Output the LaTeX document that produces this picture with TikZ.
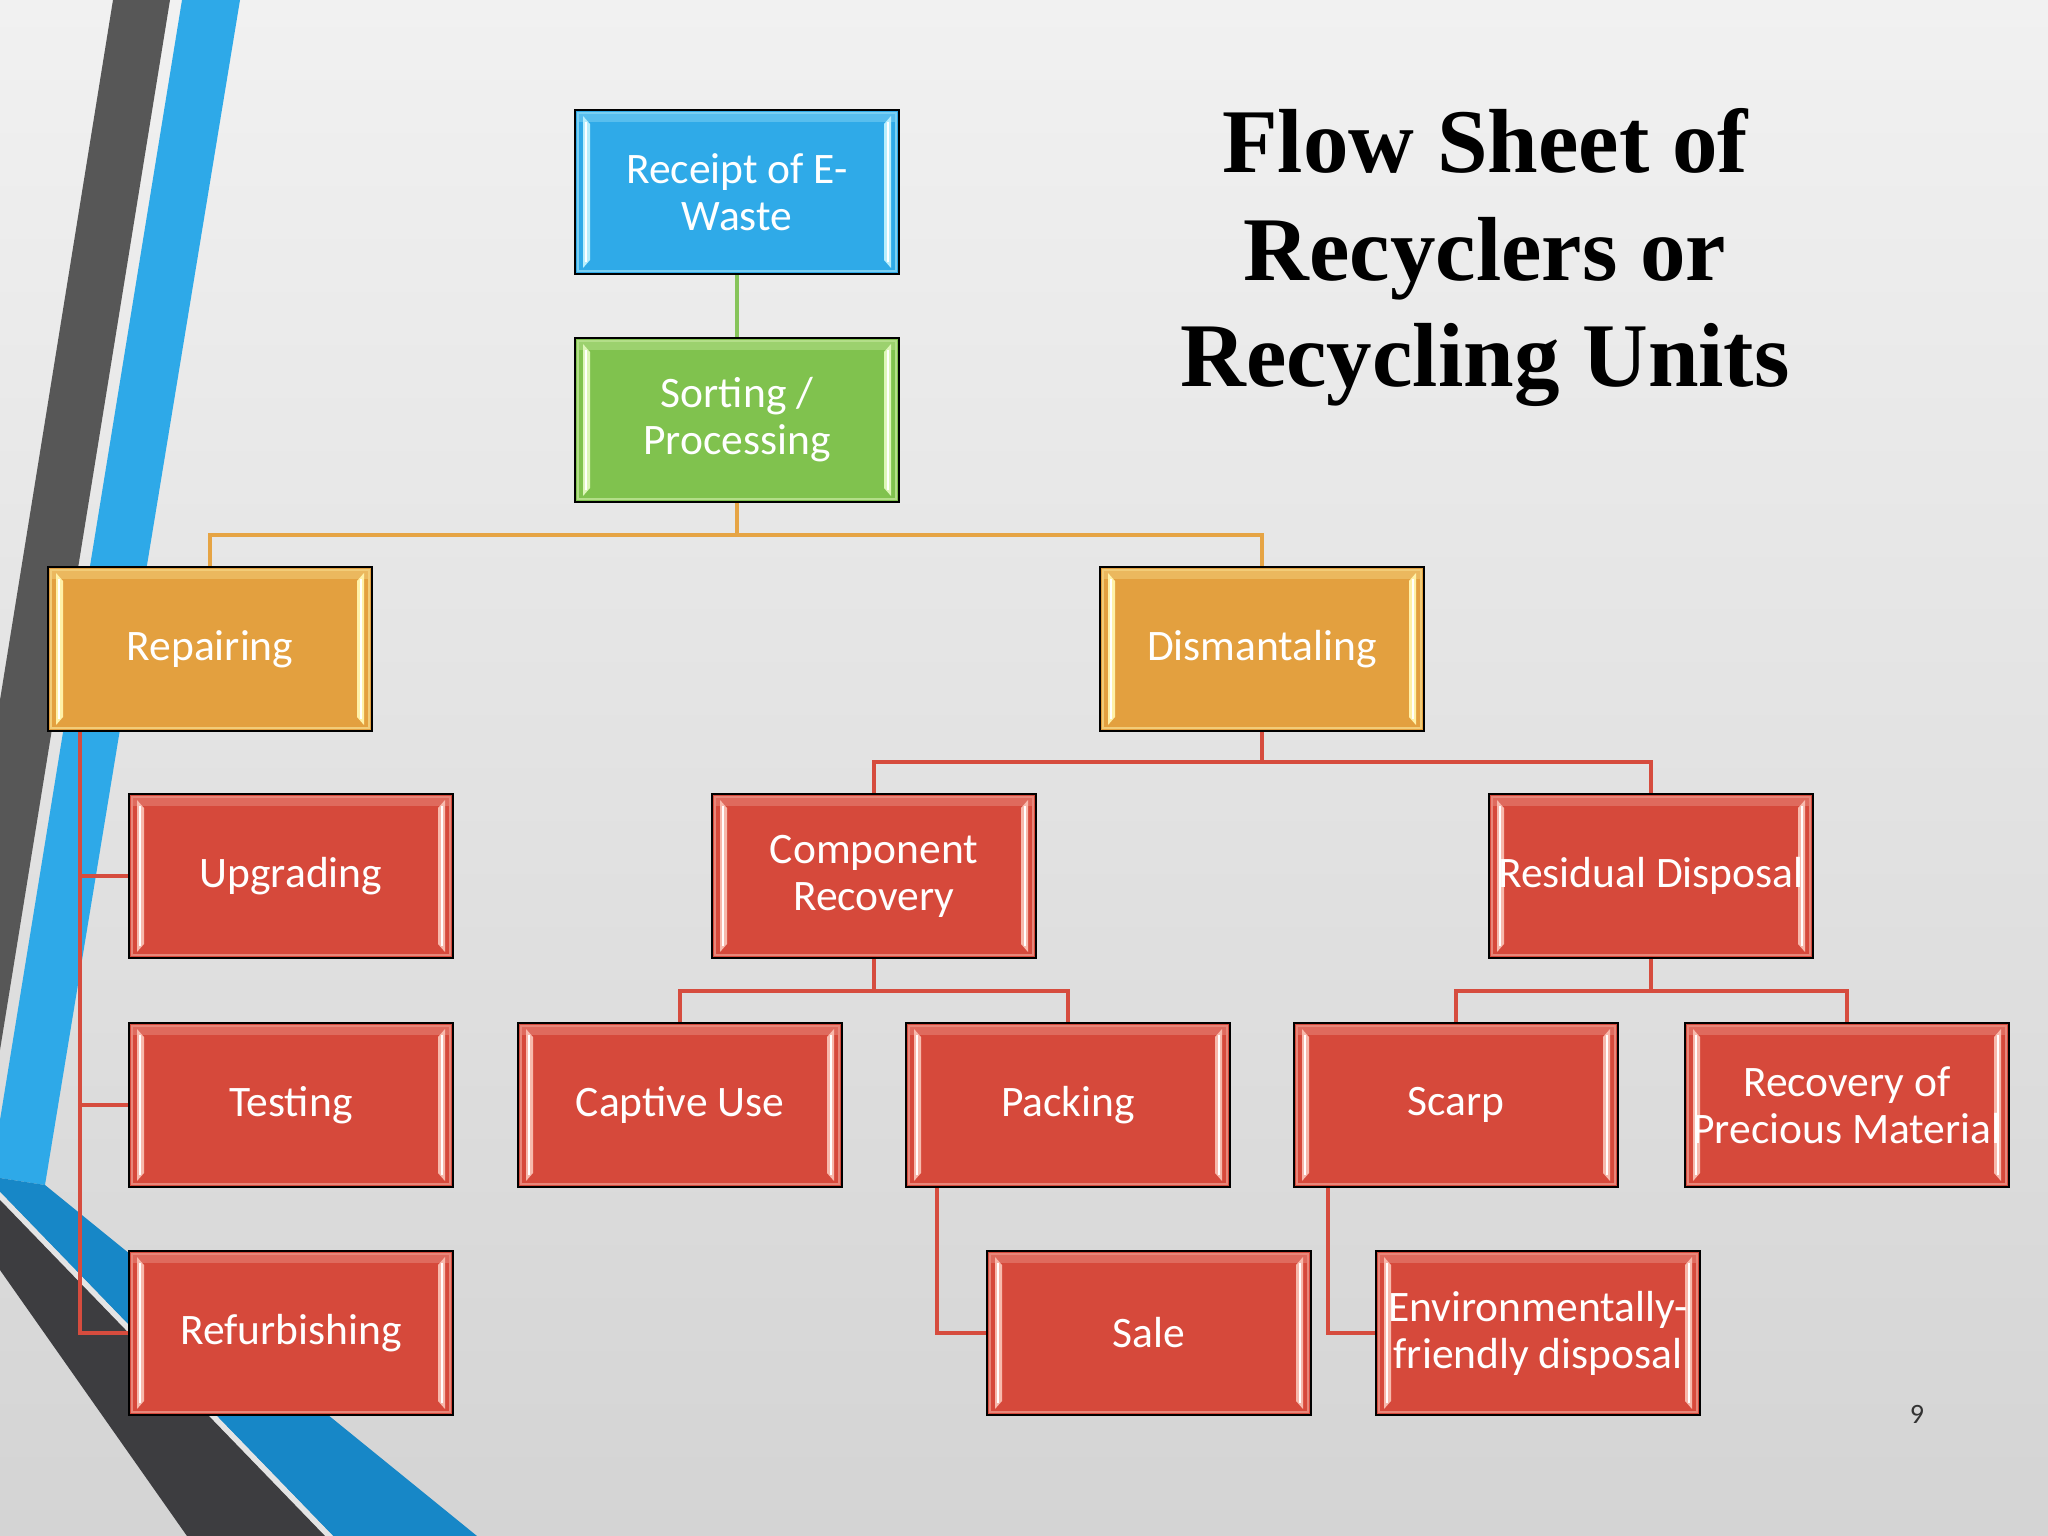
\documentclass[tikz,border=0pt]{standalone}
\usepackage{fontspec}
\setmainfont{Carlito}
\newfontfamily\titlefont{Liberation Serif}
\usetikzlibrary{calc}
\pgfdeclarelayer{back}
\pgfdeclarelayer{lines}
\pgfsetlayers{back,lines,main}
\definecolor{BgTop}{HTML}{F1F1F1}
\definecolor{BgBot}{HTML}{D4D4D4}
\definecolor{StripeDark}{HTML}{575757}
\definecolor{StripeBlue}{HTML}{2EA9E8}
\definecolor{BandBlue}{HTML}{1787C7}
\definecolor{BandDark}{HTML}{3D3D40}
\definecolor{BandLine}{HTML}{E4E4E4}
\definecolor{BlueF}{HTML}{2FAAE8}
\definecolor{BlueL}{HTML}{B8EEFC}
\definecolor{GreenF}{HTML}{80C24E}
\definecolor{GreenL}{HTML}{DDF6B8}
\definecolor{OrgF}{HTML}{E3A03F}
\definecolor{OrgL}{HTML}{FFF1A8}
\definecolor{RedF}{HTML}{D6493B}
\definecolor{RedL}{HTML}{F7B9AC}
\definecolor{GLine}{HTML}{86C45A}
\definecolor{OLine}{HTML}{E6A444}
\definecolor{RLine}{HTML}{D64C3E}
\tikzset{
  box/.style 2 args={draw=black, line width=1.8pt, fill=#1,
    minimum width=324pt, minimum height=164pt, inner sep=0pt,
    text=white, align=center, font=\fontsize{43.5}{47}\selectfont,
    path picture={
      \coordinate (pnw) at (path picture bounding box.north west);
      \coordinate (pse) at (path picture bounding box.south east);
      \coordinate (pne) at (path picture bounding box.north east);
      \coordinate (psw) at (path picture bounding box.south west);
      \draw[#2, line width=2.5pt, opacity=0.55] ($(pnw)+(3pt,-3pt)$) rectangle ($(pse)+(-3pt,3pt)$);
      \fill[#2, opacity=0.3] ($(pnw)+(4pt,-4pt)$) rectangle ($(pne)+(-4pt,-12pt)$);
      \fill[#2] ($(pnw)+(8pt,-6pt)$) -- ($(pnw)+(15pt,-14pt)$) -- ($(psw)+(15pt,14pt)$) -- ($(psw)+(8pt,6pt)$) -- cycle;
      \fill[#2] ($(pne)+(-8pt,-6pt)$) -- ($(pne)+(-15pt,-14pt)$) -- ($(pse)+(-15pt,14pt)$) -- ($(pse)+(-8pt,6pt)$) -- cycle;
      \draw[white, line width=1.2pt] ($(pnw)+(11pt,-12pt)$) -- ($(psw)+(11pt,12pt)$);
      \draw[white, line width=1.2pt] ($(pne)+(-11pt,-12pt)$) -- ($(pse)+(-11pt,12pt)$);
    }},
  bluebox/.style={box={BlueF}{BlueL}},
  greenbox/.style={box={GreenF}{GreenL}},
  orgbox/.style={box={OrgF}{OrgL}},
  redbox/.style={box={RedF}{RedL}},
  conn/.style={line width=3.5pt},
  gconn/.style={conn, draw=GLine},
  oconn/.style={conn, draw=OLine},
  rconn/.style={conn, draw=RLine},
  titleline/.style={anchor=base, inner sep=0pt, font=\titlefont\bfseries\fontsize{91}{107}\selectfont}
}
\begin{document}
\begin{tikzpicture}[x=1pt,y=-1pt]
\useasboundingbox (0,0) rectangle (2048,1536);
\begin{pgfonlayer}{back}
  \shade[top color=BgTop, bottom color=BgBot] (0,0) rectangle (2048,1536);
  \fill[StripeDark] (113,0) -- (170,0) -- (0,1050) -- (0,700) -- cycle;
  \fill[StripeBlue] (182,0) -- (240,0) -- (45,1185) -- (0,1178) -- (0,1120) -- cycle;
  \fill[BandBlue] (0,1178) -- (45,1185) -- (477,1536) -- (333,1536) -- (0,1192) -- cycle;
  \fill[BandLine] (0,1192) -- (333,1536) -- (325,1536) -- (0,1200) -- cycle;
  \fill[BandDark] (0,1200) -- (325,1536) -- (187,1536) -- (0,1270) -- cycle;
\end{pgfonlayer}

% title
\node[titleline] (title1) at (1485,172) {Flow Sheet of};
\node[titleline] (title2) at (1485,280) {Recyclers or};
\node[titleline] (title3) at (1485,386) {Recycling Units};

% boxes
\node[bluebox]  (receipt) at (737,192)  {Receipt of E-\\Waste};
\node[greenbox] (sorting) at (737,420)  {Sorting /\\Processing};
\node[orgbox]   (repair)  at (210,649)  {Repairing};
\node[orgbox]   (dism)    at (1262,649) {Dismantaling};
\node[redbox]   (upgr)    at (291,876)  {Upgrading};
\node[redbox]   (comp)    at (874,876)  {Component\\Recovery};
\node[redbox]   (resid)   at (1651,876) {Residual Disposal};
\node[redbox]   (test)    at (291,1105) {Testing};
\node[redbox]   (capt)    at (680,1105) {Captive Use};
\node[redbox]   (pack)    at (1068,1105) {Packing};
\node[redbox]   (scarp)   at (1456,1105) {Scarp};
\node[redbox]   (recov)   at (1847,1105) {Recovery of\\Precious Material};
\node[redbox]   (refurb)  at (291,1333) {Refurbishing};
\node[redbox]   (sale)    at (1149,1333) {Sale};
\node[redbox]   (env)     at (1538,1333) {Environmentally-\\friendly disposal};

\node[font=\fontsize{28}{32}\selectfont, text=black!80] (pagenum) at (1917,1414) {9};

% connectors
\begin{pgfonlayer}{lines}
  \draw[gconn] (receipt.south) -- (sorting.north);
  \coordinate (obar) at ($(sorting.south)+(0,32)$);
  \draw[oconn] (sorting.south) -- (obar);
  \draw[oconn] (repair.north) |- (obar);
  \draw[oconn] (dism.north) |- (obar);
  \coordinate (dbar) at ($(dism.south)+(0,30)$);
  \draw[rconn] (dism.south) -- (dbar);
  \draw[rconn] (comp.north) |- (dbar);
  \draw[rconn] (resid.north) |- (dbar);
  \coordinate (cbar) at ($(comp.south)+(0,32)$);
  \draw[rconn] (comp.south) -- (cbar);
  \draw[rconn] (capt.north) |- (cbar);
  \draw[rconn] (pack.north) |- (cbar);
  \coordinate (rbar) at ($(resid.south)+(0,32)$);
  \draw[rconn] (resid.south) -- (rbar);
  \draw[rconn] (scarp.north) |- (rbar);
  \draw[rconn] (recov.north) |- (rbar);
  \coordinate (rrail) at ($(repair.south west)+(33,0)$);
  \draw[rconn] (rrail) |- (refurb.west);
  \draw[rconn] (rrail |- upgr.west) -- (upgr.west);
  \draw[rconn] (rrail |- test.west) -- (test.west);
  \coordinate (prail) at ($(pack.south west)+(32,0)$);
  \draw[rconn] (prail) |- (sale.west);
  \coordinate (srail) at ($(scarp.south west)+(35,0)$);
  \draw[rconn] (srail) |- (env.west);
\end{pgfonlayer}
\end{tikzpicture}
\end{document}
